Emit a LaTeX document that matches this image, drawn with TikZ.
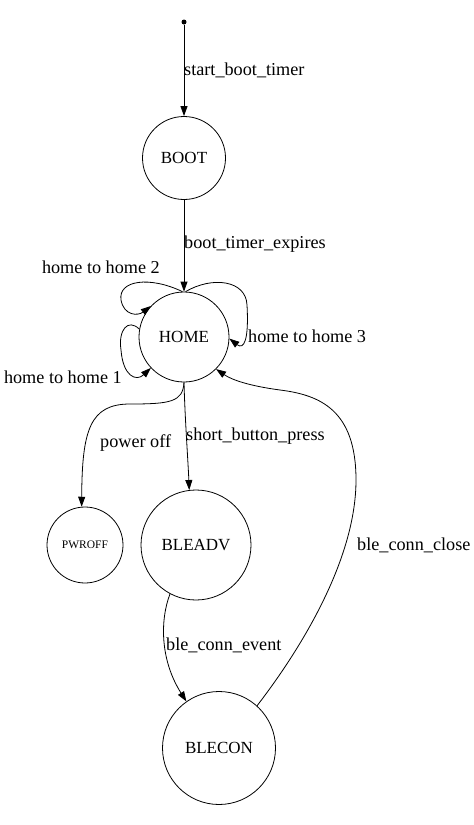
\documentclass[tikz,border=0pt]{standalone}
\usepackage{fontspec}
\setmainfont{Liberation Serif}
\usepackage{tikz}
\usetikzlibrary{arrows.meta,positioning}
\definecolor{Ink}{HTML}{000000}
\tikzset{
  state/.style={draw=Ink,circle,line width=0.8pt,inner sep=0pt,align=center,
                font=\fontsize{17}{20}\selectfont},
  smallstate/.style={state,font=\fontsize{11.5}{14}\selectfont},
  startdot/.style={circle,fill=Ink,inner sep=0pt,minimum size=5pt},
  flow/.style={-{Triangle[length=10pt,width=7pt]},line width=0.8pt,draw=Ink},
  note/.style={font=\fontsize{18.2}{21}\selectfont,text=Ink,inner sep=0pt}
}
\begin{document}
\begin{tikzpicture}[x=1pt,y=-1pt]
  \useasboundingbox (0,0) rectangle (474,825);
  \node[startdot] (init) at (184,22) {};
  \node[state,minimum size=83pt] (boot) at (184,158) {BOOT};
  \node[state,minimum size=90pt] (home) at (184,337) {HOME};
  \node[smallstate,minimum size=76pt] (pwroff) at (85,545) {PWROFF};
  \node[state,minimum size=110pt] (bleadv) at (196,545) {BLEADV};
  \node[state,minimum size=113pt] (blecon) at (219,748) {BLECON};
  % labels
  \node[note,anchor=west] (lstart) at (184,70) {start\_boot\_timer};
  \node[note,anchor=west] (lexpire) at (184,244) {boot\_timer\_expires};
  \node[note,anchor=east] (lhome2) at (160,267) {home to home 2};
  \node[note,anchor=east] (lhome1) at (122,377) {home to home 1};
  \node[note,anchor=west] (lhome3) at (248,336) {home to home 3};
  \node[note,anchor=west] (lpower) at (100,443) {power off};
  \node[note,anchor=west] (lshort) at (186,436) {short\_button\_press};
  \node[note,anchor=west] (levent) at (166,645) {ble\_conn\_event};
  \node[note,anchor=west] (lclose) at (357,545) {ble\_conn\_close};
  % transitions
  \draw[flow] (init) -- (boot);
  \draw[flow] (boot) -- (home);
  \draw[flow] (home.92) .. controls (150,276) and (118,280) .. (121,300)
                        .. controls (124,316) and (138,316) .. (home.137);
  \draw[flow] (home.170) .. controls (128,318) and (118,330) .. (121,350)
                         .. controls (123,376) and (136,382) .. (home.223);
  \draw[flow] (home.88) .. controls (212,276) and (246,280) .. (247,305)
                        .. controls (249,340) and (244,350) .. (home.-2);
  \draw[flow] (home.south) .. controls (183,402) and (170,404) .. (130,404)
                           .. controls (90,404) and (82,430) .. (pwroff.95);
  \draw[flow] (home.south) .. controls (185,420) and (188,460) .. (bleadv.97);
  \draw[flow] (bleadv.242) .. controls (160,620) and (160,660) .. (blecon.125);
  \draw[flow] (blecon.48) .. controls (300,650) and (356,560) .. (356,480)
                          .. controls (356,410) and (320,395) .. (280,390)
                          .. controls (250,386) and (232,380) .. (home.-45);
\end{tikzpicture}
\end{document}
